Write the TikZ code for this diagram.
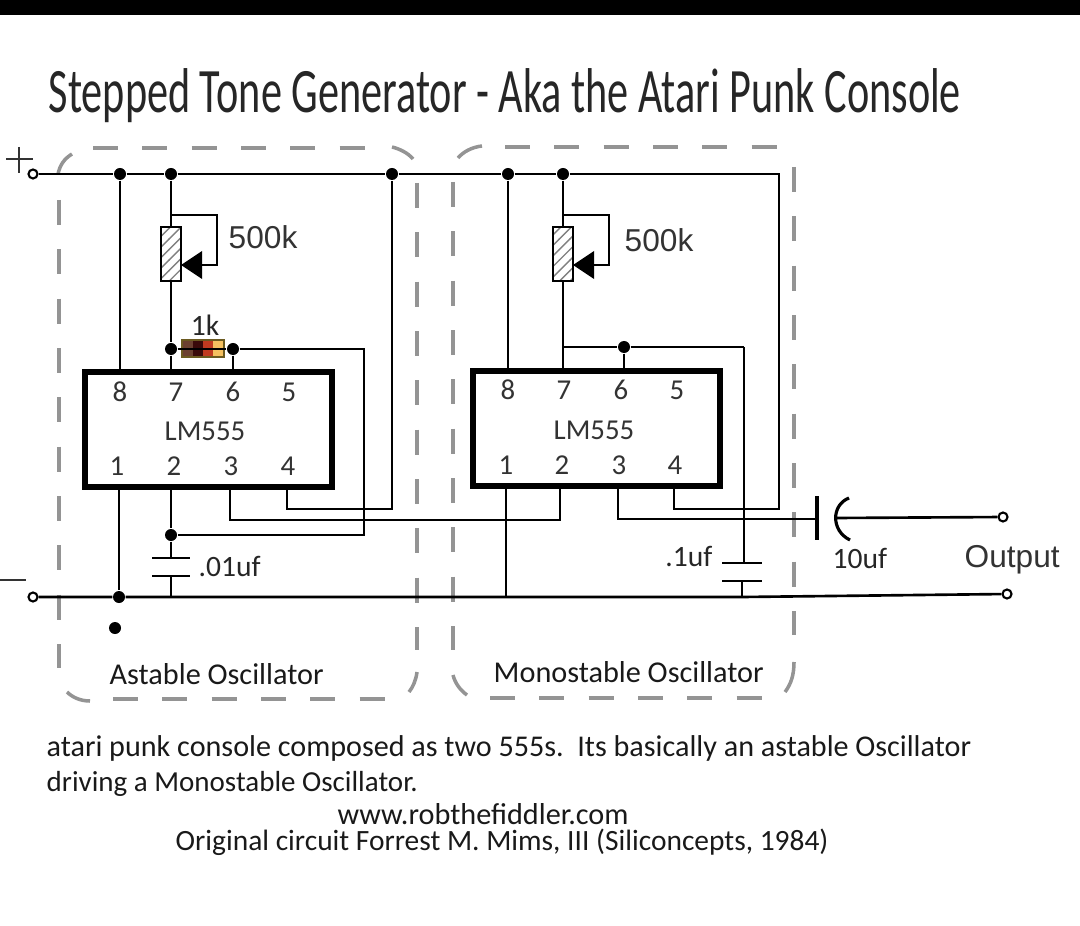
\documentclass[tikz,border=0pt]{standalone}
\usepackage{fontspec}
\setmainfont{Carlito}
\newfontfamily\arialfont{Liberation Sans}
\newfontfamily\titlefont[FakeStretch=0.667]{Carlito}
\usetikzlibrary{positioning,arrows.meta,patterns}
\definecolor{dashgray}{gray}{0.58}
\definecolor{bandA}{HTML}{6B4030}
\definecolor{bandB}{HTML}{3A0A0A}
\definecolor{bandC}{HTML}{C03A20}
\definecolor{bandD}{HTML}{F5C060}
\definecolor{bandE}{HTML}{6B5A20}
\tikzset{
  wire/.style={line width=0.75pt},
  boxdash/.style={dashgray, line width=1pt, dash pattern=on 7.1pt off 6.93pt},
  boxarc/.style={dashgray, line width=1pt},
  dot/.style={circle, fill=black, inner sep=0pt, minimum size=0.12cm},
  term/.style={circle, draw, fill=white, line width=0.6pt, inner sep=0pt, minimum size=0.09cm},
  ic/.style={rectangle, draw, line width=1.7pt, inner sep=0pt, minimum width=2.47cm, minimum height=1.14cm},
  pot/.style={rectangle, draw, line width=0.6pt, inner sep=0pt, minimum width=0.2cm, minimum height=0.54cm, pattern=north east lines, pattern color=gray},
  pinlabel/.style={font=\fontsize{8.2}{9}\selectfont, inner sep=0pt, text=black!80},
  vallabel/.style={font=\fontsize{8.4}{9}\selectfont, inner sep=0pt, text=black!85},
  potlabel/.style={font=\arialfont\fontsize{9}{10}\selectfont, inner sep=0pt, text=black!80},
  caption/.style={inner sep=0pt, anchor=west, text=black!90}
}
\begin{document}
\begin{tikzpicture}[x=0.01cm,y=-0.01cm]
\useasboundingbox (0,0) rectangle (1080,925);
\fill[black] (0,0) rectangle (1080,15);

% Title
\node[font=\titlefont\fontsize{18}{20}\selectfont, inner sep=0pt, anchor=west, text=black!85] (title) at (48,96) {Stepped Tone Generator - Aka the Atari Punk Console};

% Dashed boxes
\draw[boxdash] (93,148) -- (365,148);
\draw[boxdash] (113,699) -- (388,699);
\draw[boxdash] (59,200) -- (59,668);
\draw[boxdash] (417,183) -- (417,650);
\draw[boxarc] (58,174) .. controls (60,165) and (64,159) .. (72,154);
\draw[boxarc] (392,147) .. controls (400,149) and (408,153) .. (413,159);
\draw[boxarc] (67,692) .. controls (72,697) and (80,701) .. (90,701);
\draw[boxarc] (417,672) .. controls (416,680) and (413,687) .. (409,692);
\draw[boxdash] (505,147) -- (777,147);
\draw[boxdash] (490,698) -- (762,698);
\draw[boxdash] (453,182) -- (453,650);
\draw[boxdash] (794,167) -- (794,635);
\draw[boxarc] (458,158) .. controls (463,152) and (472,147) .. (482,146);
\draw[boxarc] (453,675) .. controls (455,683) and (460,690) .. (467,695);
\draw[boxarc] (794,662) .. controls (794,675) and (791,684) .. (785,692);

% Terminals and rails
\node[term] (plus) at (33,174) {};
\node[term] (minus) at (33,597) {};
\node[term] (outtop) at (1003,517) {};
\node[term] (outbot) at (1007,594) {};
\draw[wire, black!80] (6,159) -- (33,159) (19,147) -- (19,173);
\draw[wire, black!80] (0,580) -- (26,580);

% Chips
\node[ic] (icA) at (208.5,429.5) {};
\node[ic] (icB) at (596.5,428.5) {};
\node[pinlabel] (nameA) at (205,431) {LM555};
\node[pinlabel] (nameB) at (594,430) {LM555};
\foreach \n/\x in {8/120,7/176,6/233,5/289}
  \node[pinlabel] (topA\n) at (\x,392) {\n};
\foreach \n/\x in {1/117,2/174,3/231,4/288}
  \node[pinlabel] (botA\n) at (\x,466) {\n};
\foreach \n/\x in {8/508,7/564,6/621,5/677}
  \node[pinlabel] (topB\n) at (\x,390) {\n};
\foreach \n/\x in {1/506,2/562,3/619,4/675}
  \node[pinlabel] (botB\n) at (\x,465) {\n};

% Junctions
\node[dot] (railA) at (120,174) {};
\node[dot] (railB) at (171,174) {};
\node[dot] (railC) at (392,174) {};
\node[dot] (railD) at (508,174) {};
\node[dot] (railE) at (563,174) {};
\node[dot] (jA) at (171,349) {};
\node[dot] (jB) at (233,349) {};
\node[dot] (jC) at (171,535) {};
\node[dot] (jD) at (119,597) {};
\node[dot] (jE) at (624,347) {};
\node[dot] (stray) at (115,628) {};

% Pin ends
\coordinate (pA8) at (120,372);
\coordinate (pA7) at (171,372);
\coordinate (pA6) at (233,372);
\coordinate (pA1) at (119,487);
\coordinate (pA2) at (171,487);
\coordinate (pA3) at (230,487);
\coordinate (pA4) at (287,487);
\coordinate (pB8) at (508,372);
\coordinate (pB7) at (563,372);
\coordinate (pB6) at (624,372);
\coordinate (pB1) at (506,486);
\coordinate (pB2) at (560,486);
\coordinate (pB3) at (618,486);
\coordinate (pB4) at (674,486);

% Pots
\node[pot] (potA) at (171,254) {};
\node[pot] (potB) at (563,254) {};
\coordinate (tapA) at (171,215);
\coordinate (tapB) at (563,215);
\coordinate (tipA) at (181,265);
\coordinate (tipB) at (573,265);
\coordinate (cornA) at (217,215);
\coordinate (cornB) at (609,215);
\draw[wire] (railB) -- (potA.north);
\draw[wire] (railE) -- (potB.north);
\draw[wire, -{Triangle[length=6pt,width=7.8pt]}] (tapA) -- (cornA) -- (cornA|-tipA) -- (tipA);
\draw[wire, -{Triangle[length=6pt,width=7.8pt]}] (tapB) -- (cornB) -- (cornB|-tipB) -- (tipB);
\node[potlabel, anchor=west] (valA) at (228,237) {500k};
\node[potlabel, anchor=west] (valB) at (624,240) {500k};

% 1k resistor
\filldraw[draw=bandE, fill=bandA, line width=0.4pt] (182,340) rectangle (224,357);
\fill[bandB] (193,341) rectangle (203,356);
\fill[bandC] (203,341) rectangle (213,356);
\fill[bandD] (213,341) rectangle (223,356);
\node[vallabel] (valR) at (205,325) {1k};

% Top wires
\draw[wire] (plus) -- (railA) -- (railB) -- (railC) -- (railD) -- (railE) -- (779,174) coordinate (railend) -- (779,509) coordinate (retB) -- (pB4|-retB) -- (pB4);
\draw[wire] (railA) -- (pA8);
\draw[wire] (potA.south) -- (jA) -- (pA7);
\draw[wire] (jA) -- (jB);
\draw[wire] (jB) -- (pA6);
\draw[wire] (jB) -- (364,349) coordinate (fbA) -- (364,535) coordinate (fbB) -- (jC);
\draw[wire] (railD) -- (pB8);
\draw[wire] (potB.south) -- (pB7);
\draw[wire] (pB7|-jE) -- (jE) -- (744,347) coordinate (fbC);
\draw[wire] (jE) -- (pB6);

% Lower wires
\draw[wire] (pA1) -- (jD);
\draw[wire] (pA2) -- (jC);
\coordinate (capAtop) at (171,558);
\coordinate (capAbot) at (171,576);
\coordinate (capBtop) at (744,563);
\coordinate (capBbot) at (742,581);
\draw[wire] (jC) -- (capAtop);
\draw[wire] (capAbot) -- (capAbot|-jD);
\draw[wire] (152,558) -- (190,558);
\draw[wire] (152,576) -- (190,576);
\node[vallabel, anchor=west] (valC) at (198,566) {.01uf};
\draw[wire] (pA4) -- (pA4|-retB) -- (392,509) coordinate (retA) -- (railC);
\draw[wire] (pA3) -- (230,520) coordinate (trigA) -- (560,520) coordinate (trigB) -- (pB2);
\draw[wire] (pB1) -- (506,597) coordinate (gndB);
\draw[wire] (fbC) -- (capBtop);
\draw[wire] (capBbot) -- (742,597) coordinate (gndC);
\draw[wire] (722,563) -- (762,563);
\draw[wire] (722,581) -- (762,581);
\node[vallabel, anchor=east] (valD) at (713,556) {.1uf};
\draw[wire] (minus) -- (jD) -- (gndB) -- (gndC) -- (outbot);

% Output cap
\coordinate (capCa) at (817,519);
\coordinate (capCb) at (835,518);
\draw[wire] (pB3) -- (pB3|-capCa) -- (capCa);
\draw[wire, line width=0.9pt] (817,496) -- (817,540);
\draw[wire, line width=0.9pt] (849,498) .. controls (831,505) and (831,531) .. (850,540);
\draw[wire] (capCb) -- (outtop);
\node[vallabel, anchor=west] (valE) at (832,558) {10uf};
\node[potlabel, anchor=west] (outlabel) at (964,560) {Output};

% Box names and notes
\node[caption, font=\fontsize{8.6}{10}\selectfont] (nameAst) at (109,674) {Astable Oscillator};
\node[caption, font=\fontsize{8.6}{10}\selectfont] (nameMono) at (493,672) {Monostable Oscillator};
\node[caption, font=\fontsize{8.57}{10}\selectfont] (noteA) at (46,748) {atari punk console composed as two 555s.\ \ Its basically an astable Oscillator};
\node[caption, font=\fontsize{8.25}{10}\selectfont] (noteB) at (46,784) {driving a Monostable Oscillator.};
\node[caption, font=\fontsize{8.6}{10}\selectfont] (noteC) at (337,814) {www.robthefiddler.com};
\node[caption, font=\fontsize{8.37}{10}\selectfont] (noteD) at (175,842) {Original circuit Forrest M. Mims, III (Siliconcepts, 1984)};
\end{tikzpicture}
\end{document}
